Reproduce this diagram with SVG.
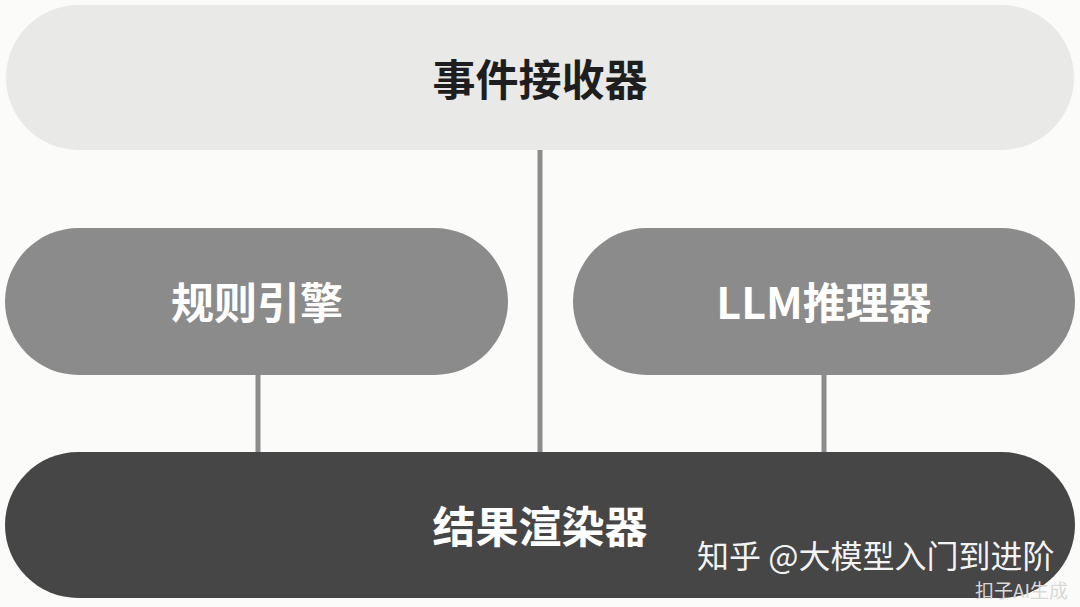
<svg xmlns="http://www.w3.org/2000/svg" width="1080" height="607" viewBox="0 0 1080 607">
<style>
.lbl{font-family:"Noto Sans CJK SC","Noto Sans",sans-serif;font-weight:700;font-size:43px;text-anchor:middle;dominant-baseline:central}
.conn{stroke:#8c8c8c;stroke-width:5;fill:none}
.wm{font-family:"Noto Sans CJK SC",sans-serif}
</style>
<rect width="1080" height="607" fill="#fbfbfa"/>
<g id="connectors">
<line class="conn" x1="540" y1="148" x2="540" y2="454"/>
<line class="conn" x1="258" y1="373" x2="258" y2="454"/>
<line class="conn" x1="824" y1="373" x2="824" y2="454"/>
</g>
<g id="event-receiver">
<rect x="6" y="5" width="1068" height="145" rx="72.5" fill="#e9e9e8"/>
<text class="lbl" x="540" y="77" fill="#1e1e1e">事件接收器</text>
</g>
<g id="rule-engine">
<rect x="5" y="228" width="503" height="147" rx="73.5" fill="#8b8b8b"/>
<text class="lbl" x="257" y="300" fill="#ffffff">规则引擎</text>
</g>
<g id="llm-reasoner">
<rect x="573" y="228" width="502" height="147" rx="73.5" fill="#8b8b8b"/>
<text class="lbl" x="824" y="300" fill="#ffffff">LLM推理器</text>
</g>
<g id="result-renderer">
<rect x="5" y="452" width="1070" height="146" rx="73" fill="#464646"/>
<text class="lbl" x="540" y="524" fill="#ffffff">结果渲染器</text>
</g>
<g id="watermark">
<text class="wm" x="697" y="568" font-size="32" fill="#ffffff" fill-opacity="0.95">知乎 @大模型入门到进阶</text>
<text class="wm" x="975" y="598" font-size="19" fill="#d8d8d8">扣子AI生成</text>
</g>
</svg>
